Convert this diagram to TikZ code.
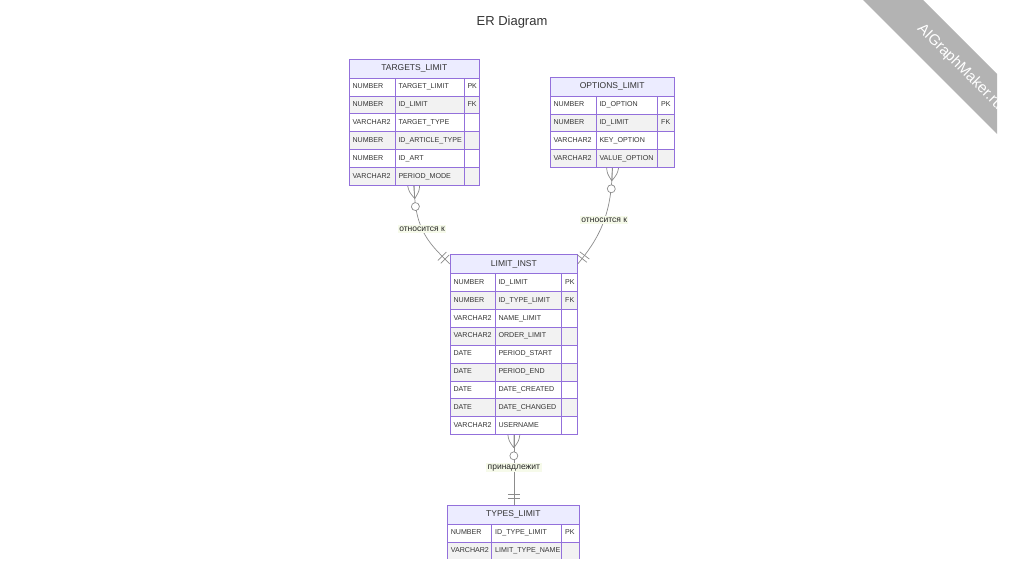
\documentclass[tikz,border=0pt]{standalone}
\usepackage{fontspec}
\setmainfont{Liberation Sans}
\usepackage{tikz}
\usetikzlibrary{positioning,calc,fit,decorations.markings}
\definecolor{hdrfill}{HTML}{ECECFF}
\definecolor{erline}{HTML}{9370DB}
\definecolor{rowgray}{HTML}{F2F2F2}
\definecolor{relgray}{HTML}{8C8C8C}
\definecolor{lblbg}{HTML}{F6FAEA}
\definecolor{txtgray}{HTML}{333333}
\definecolor{wmgray}{HTML}{B3B3B3}

\begin{document}
\begin{tikzpicture}[x=1pt, y=-1pt]
  \tikzstyle{hdr} = [rectangle, draw=erline, fill=hdrfill, line width=0.8pt, anchor=north west,
                     minimum height=19pt, inner sep=0pt, outer sep=0pt, font=\fontsize{8.5}{10}\selectfont, text=txtgray]
  \tikzstyle{cell} = [rectangle, draw=erline, line width=0.8pt, minimum height=17.9pt, inner ysep=0pt,
                      inner xsep=3.5pt, outer sep=0pt, text height=5.2pt, text depth=1.6pt,
                      font=\fontsize{7.1}{8}\selectfont, text=txtgray]
  \tikzstyle{rel} = [draw=relgray, line width=0.7pt]
  \tikzstyle{rellbl} = [fill=lblbg, inner sep=1.5pt, font=\fontsize{8.5}{9}\selectfont, text=black!85]
  \tikzstyle{zeromany} = [postaction={decorate, decoration={markings, mark=at position 13pt with {
      \draw[relgray, line width=0.7pt] (0,0) -- (-13pt,0)
        (0,0) .. controls (-7pt,5pt) .. (-13pt,6pt)
        (0,0) .. controls (-7pt,-5pt) .. (-13pt,-6pt);
      \draw[relgray, line width=0.7pt, fill=white] (8pt,0) circle (4pt);}}}]
  \tikzstyle{onlyone} = [postaction={decorate, decoration={markings,
      mark=at position -7pt with {\draw[relgray, line width=0.7pt] (0,-6pt) -- (0,6pt);},
      mark=at position -11pt with {\draw[relgray, line width=0.7pt] (0,-6pt) -- (0,6pt);}}}]

  \useasboundingbox (0,0) rectangle (1024,574);
  \clip (0,0) rectangle (1024,558.5);

  \node[font=\fontsize{13}{15}\selectfont, text=txtgray] (title) at (512,22) {ER Diagram};

  % TARGETS_LIMIT
  \node[hdr, minimum width=130.5pt] (tl) at (349,59) {TARGETS\_LIMIT};
  \foreach \ty/\nm/\ky [count=\i] in {NUMBER/TARGET\_LIMIT/PK, NUMBER/ID\_LIMIT/FK, VARCHAR2/TARGET\_TYPE/{},
      NUMBER/ID\_ARTICLE\_TYPE/{}, NUMBER/ID\_ART/{}, VARCHAR2/PERIOD\_MODE/{}} {
    \ifodd\i \def\rowbg{white}\else\def\rowbg{rowgray}\fi
    \node[cell, fill=\rowbg, anchor=north west] (tl-a\i) at ($(tl.south west)+(0,{(\i-1)*17.9})$) {\makebox[39pt][l]{\ty}};
    \node[cell, fill=\rowbg, right=0pt of tl-a\i] (tl-b\i) {\makebox[62pt][l]{\nm}};
    \node[cell, fill=\rowbg, right=0pt of tl-b\i] (tl-c\i) {\makebox[8.5pt][l]{\ky}};
  }
  \node[fit=(tl)(tl-a6)(tl-c6), inner sep=0pt] (targets) {};

  % OPTIONS_LIMIT
  \node[hdr, minimum width=124.3pt] (ol) at (550,77) {OPTIONS\_LIMIT};
  \foreach \ty/\nm/\ky [count=\i] in {NUMBER/ID\_OPTION/PK, NUMBER/ID\_LIMIT/FK, VARCHAR2/KEY\_OPTION/{},
      VARCHAR2/VALUE\_OPTION/{}} {
    \ifodd\i \def\rowbg{white}\else\def\rowbg{rowgray}\fi
    \node[cell, fill=\rowbg, anchor=north west] (ol-a\i) at ($(ol.south west)+(0,{(\i-1)*17.9})$) {\makebox[39pt][l]{\ty}};
    \node[cell, fill=\rowbg, right=0pt of ol-a\i] (ol-b\i) {\makebox[54.7pt][l]{\nm}};
    \node[cell, fill=\rowbg, right=0pt of ol-b\i] (ol-c\i) {\makebox[9.6pt][l]{\ky}};
  }
  \node[fit=(ol)(ol-a4)(ol-c4), inner sep=0pt] (options) {};

  % LIMIT_INST
  \node[hdr, minimum width=127.7pt] (li) at (450,254.5) {LIMIT\_INST};
  \foreach \ty/\nm/\ky [count=\i] in {NUMBER/ID\_LIMIT/PK, NUMBER/ID\_TYPE\_LIMIT/FK, VARCHAR2/NAME\_LIMIT/{},
      VARCHAR2/ORDER\_LIMIT/{}, DATE/PERIOD\_START/{}, DATE/PERIOD\_END/{}, DATE/DATE\_CREATED/{},
      DATE/DATE\_CHANGED/{}, VARCHAR2/USERNAME/{}} {
    \ifodd\i \def\rowbg{white}\else\def\rowbg{rowgray}\fi
    \node[cell, fill=\rowbg, anchor=north west] (li-a\i) at ($(li.south west)+(0,{(\i-1)*17.9})$) {\makebox[38pt][l]{\ty}};
    \node[cell, fill=\rowbg, right=0pt of li-a\i] (li-b\i) {\makebox[59.7pt][l]{\nm}};
    \node[cell, fill=\rowbg, right=0pt of li-b\i] (li-c\i) {\makebox[9pt][l]{\ky}};
  }
  \node[fit=(li)(li-a9)(li-c9), inner sep=0pt] (inst) {};

  % TYPES_LIMIT
  \node[hdr, minimum width=132pt] (tp) at (447.3,505) {TYPES\_LIMIT};
  \foreach \ty/\nm/\ky [count=\i] in {NUMBER/ID\_TYPE\_LIMIT/PK, VARCHAR2/LIMIT\_TYPE\_NAME/{}} {
    \ifodd\i \def\rowbg{white}\else\def\rowbg{rowgray}\fi
    \node[cell, fill=\rowbg, anchor=north west] (tp-a\i) at ($(tp.south west)+(0,{(\i-1)*17.9})$) {\makebox[37.4pt][l]{\ty}};
    \node[cell, fill=\rowbg, right=0pt of tp-a\i] (tp-b\i) {\makebox[63pt][l]{\nm}};
    \node[cell, fill=\rowbg, right=0pt of tp-b\i] (tp-c\i) {\makebox[10.6pt][l]{\ky}};
  }

  % relations
  \draw[rel, zeromany, onlyone] (targets.south) .. controls +(0,46) and +(-19,-19) ..
    node[rellbl, pos=0.42] (r1) {относится к} (li.west);
  \draw[rel, zeromany, onlyone] (options.south) .. controls +(0,48) and +(20,-24) ..
    node[rellbl, pos=0.45] (r2) {относится к} (li.east);
  \draw[rel, zeromany, onlyone] (inst.south) -- node[rellbl, pos=0.47] (r3) {принадлежит} (inst.south |- tp.north);

  % watermark
  \begin{scope}
    \clip (0,0) rectangle (997,574);
    \fill[wmgray] (863,0) -- (923,0) -- (1040,117) -- (1040,177) -- cycle;
    \node[text=white, rotate=-45, anchor=west, font=\fontsize{15}{17}\selectfont] (wm) at (917,24) {AIGraphMaker.ru};
  \end{scope}
\end{tikzpicture}
\end{document}
